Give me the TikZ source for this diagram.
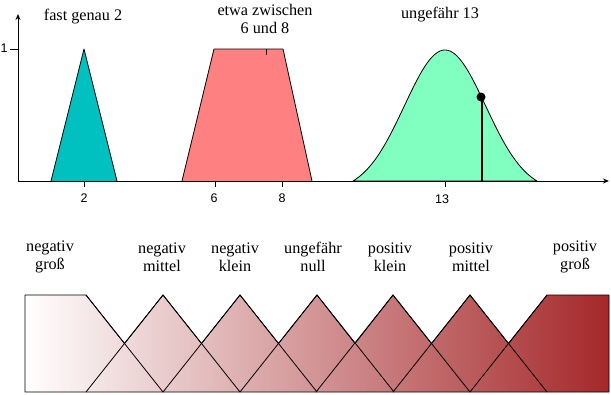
\documentclass[tikz,border=0pt]{standalone}
\usepackage{fontspec}
\setmainfont{Liberation Serif}
\newfontfamily\axisfont{Liberation Sans}
\usetikzlibrary{arrows.meta}

\definecolor{fastcyan}{RGB}{0,192,192}
\definecolor{etwared}{RGB}{255,128,128}
\definecolor{ungefgreen}{RGB}{128,255,192}
\definecolor{grossbrown}{RGB}{165,40,42}

\tikzset{
	termlabel/.style={align=center, font=\fontsize{16.2}{18.5}\selectfont, inner sep=0pt},
	ticklabel/.style={font=\axisfont\fontsize{12.5}{14}\selectfont, inner sep=0pt},
	member/.style={draw=black, line width=0.8pt, line join=round}
}

\begin{document}
\begin{tikzpicture}[x=1pt, y=-1pt]
	\useasboundingbox (0,0) rectangle (611,394);

	% fuzzy numbers
	\draw[member, fill=fastcyan] (51,181) -- (84,49) -- (117,181);
	\draw[member, fill=etwared] (182,181) -- (214,49) -- (283,49) -- (312,181);
	\draw[line width=0.8pt] (266,49) -- (266,55);
	\draw[member, fill=ungefgreen] plot[domain=353:537, samples=90, smooth]
		(\x,{181-131*(exp(-((\x-445)*(\x-445))/3300)-0.077)/0.923}) -- cycle;

	% axes
	\draw[line width=1pt, -{Stealth[length=6pt, width=5pt]}] (18,181) -- (609,181);
	\draw[line width=1pt, -{Stealth[length=6pt, width=5pt]}] (18,181) -- (18,14);
	\draw[line width=0.8pt] (10,49) -- (18,49);
	\node[ticklabel] (yone) at (4,48) {1};
	\foreach \t in {84, 215, 282, 445}{
		\draw[line width=0.8pt] (\t,181) -- (\t,187);
	}
	\node[ticklabel] (xtwo) at (84,198) {2};
	\node[ticklabel] (xsix) at (214,198) {6};
	\node[ticklabel] (xeight) at (282,198) {8};
	\node[ticklabel] (xthirteen) at (442,199) {13};

	% membership of one value
	\draw[line width=2pt] (482,181) -- (482,97);
	\fill (481,97) circle (4.5);

	\node[termlabel] (fast) at (83,17) {fast genau 2};
	\node[termlabel] (etwa) at (265,19) {etwa zwischen\\6 und 8};
	\node[termlabel] (ungef) at (440,15) {ungefähr 13};

	% linguistic terms
	\shade[left color=white, right color=grossbrown]
		(25,392) -- (25,295) -- (86,295) -- (124.5,343.5) -- (163,295) -- (201.5,343.5) -- (240,295)
		-- (278.5,343.5) -- (317,295) -- (355,343.5) -- (393,295) -- (431.5,343.5) -- (470,295)
		-- (508.5,343.5) -- (547,295) -- (609,295) -- (609,392) -- cycle;
	\draw[member]
		(25,392) -- (25,295) -- (86,295) -- (124.5,343.5) -- (163,295) -- (201.5,343.5) -- (240,295)
		-- (278.5,343.5) -- (317,295) -- (355,343.5) -- (393,295) -- (431.5,343.5) -- (470,295)
		-- (508.5,343.5) -- (547,295) -- (609,295) -- (609,392) -- cycle;
	\draw[member] (86,295) -- (163,392);
	\foreach \p in {163,240,317,393,470}{
		\draw[member] ({\p-77},392) -- (\p,295) -- ({\p+77},392);
	}
	\draw[member] (470,392) -- (547,295);

	\node[termlabel] (neggross) at (50,257) {negativ\\groß};
	\node[termlabel] (negmittel) at (162,257) {negativ\\mittel};
	\node[termlabel] (negklein) at (235,257) {negativ\\klein};
	\node[termlabel] (nullterm) at (313,257) {ungefähr\\null};
	\node[termlabel] (posklein) at (390,257) {positiv\\klein};
	\node[termlabel] (posmittel) at (471,257) {positiv\\mittel};
	\node[termlabel] (posgross) at (575,257) {positiv\\groß};
\end{tikzpicture}
\end{document}
